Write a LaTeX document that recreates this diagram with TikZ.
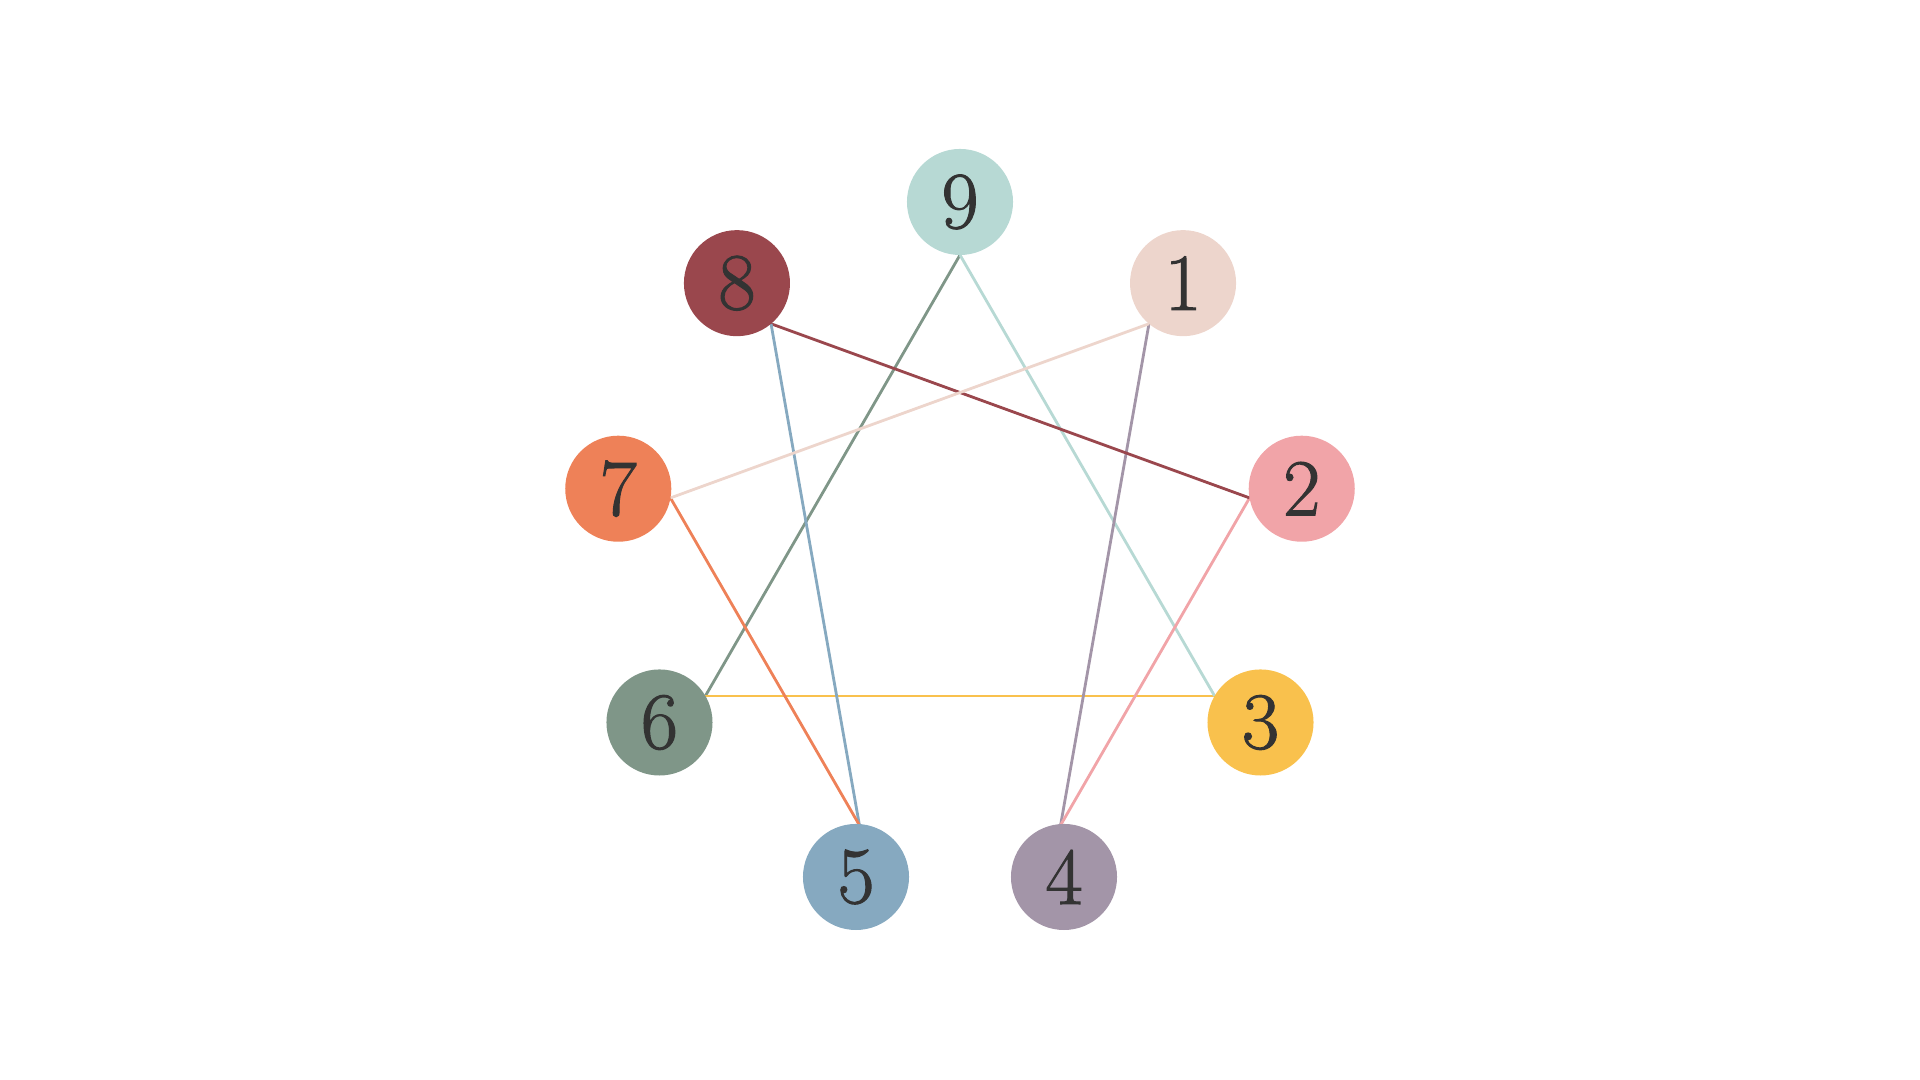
\documentclass[tikz,border=0pt]{standalone}
\usepackage{fontspec}
\newfontfamily\numfont{Latin Modern Roman}[FakeBold=1.3]
\usepackage{xcolor}
\usepackage{tikz}
\usetikzlibrary{positioning}
\definecolor{typeone}{HTML}{EDD5CC}
\definecolor{typetwo}{HTML}{F1A4A8}
\definecolor{typethree}{HTML}{F9C14D}
\definecolor{typefour}{HTML}{A395A8}
\definecolor{typefive}{HTML}{86A9C0}
\definecolor{typesix}{HTML}{7F9688}
\definecolor{typeseven}{HTML}{EE8158}
\definecolor{typeeight}{HTML}{9A474D}
\definecolor{typenine}{HTML}{B7D9D4}
\definecolor{numgray}{HTML}{333333}

\begin{document}
\begin{tikzpicture}[
  x=0.01cm, y=0.01cm,
  typenode/.style={
    circle, inner sep=0pt, minimum size=1.06cm,
    font=\numfont\fontsize{23}{23}\selectfont, text=numgray
  },
  link/.style={line width=0.8pt},
]
\useasboundingbox (0,0) rectangle (1920,1080);

\begin{scope}[shift={(960,531)}]
% points where the lines meet the circles
\coordinate (p9) at (90:294);
\coordinate (p1) at (50:294);
\coordinate (p2) at (10:294);
\coordinate (p3) at (-30:294);
\coordinate (p4) at (-70:294);
\coordinate (p5) at (-110:294);
\coordinate (p6) at (-150:294);
\coordinate (p7) at (170:294);
\coordinate (p8) at (130:294);

% triangle
\draw[link, draw=typesix]   (p9) -- (p6);
\draw[link, draw=typethree] (p6) -- (p3);
\draw[link, draw=typenine]  (p3) -- (p9);

% hexad
\draw[link, draw=typefour]  (p1) -- (p4);
\draw[link, draw=typetwo]   (p4) -- (p2);
\draw[link, draw=typeeight] (p2) -- (p8);
\draw[link, draw=typefive]  (p8) -- (p5);
\draw[link, draw=typeseven] (p5) -- (p7);
\draw[link, draw=typeone]   (p7) -- (p1);

\node[typenode, fill=typenine]  (n9) at (90:347)   {9};
\node[typenode, fill=typeone]   (n1) at (50:347)   {1};
\node[typenode, fill=typetwo]   (n2) at (10:347)   {2};
\node[typenode, fill=typethree] (n3) at (-30:347)  {3};
\node[typenode, fill=typefour]  (n4) at (104,-328) {4};
\node[typenode, fill=typefive]  (n5) at (-104,-328) {5};
\node[typenode, fill=typesix]   (n6) at (-150:347) {6};
\node[typenode, fill=typeseven] (n7) at (170:347)  {7};
\node[typenode, fill=typeeight] (n8) at (130:347)  {8};
\end{scope}

\end{tikzpicture}
\end{document}
